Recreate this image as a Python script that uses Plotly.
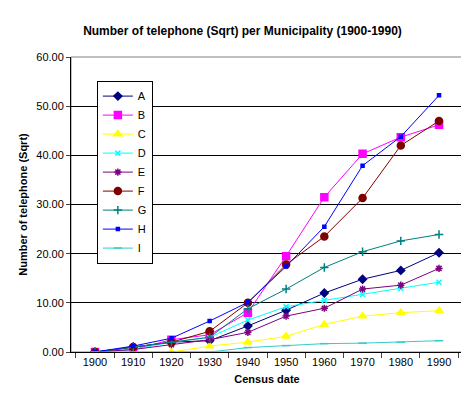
import plotly.graph_objects as go

years = ["1900","1910","1920","1930","1940","1950","1960","1970","1980","1990"]
A = [0,1.0,2.0,2.3,5.3,8.5,12.0,14.8,16.6,20.2]
B = [0,0.5,2.5,3.5,8.0,19.5,31.5,40.3,43.7,46.2]
C = [0,0,0,1.2,2.0,3.2,5.6,7.3,8.0,8.4]
D = [0,0.5,2.0,3.0,6.5,9.2,10.5,11.7,12.9,14.2]
E = [0,0.5,1.5,2.5,4.0,7.3,8.9,12.8,13.6,17.0]
F = [0,1.0,2.0,4.2,10.0,17.8,23.5,31.3,42.0,47.0]
G = [0,1.0,2.0,3.0,8.8,12.8,17.2,20.4,22.6,23.9]
H = [0,1.2,2.8,6.3,10.1,17.4,25.5,37.9,43.8,52.2]
I = [0,0,0,0,0.9,1.3,1.7,1.8,2.0,2.3]

series = [("A",A,"#000080","diamond",6),("B",B,"#FF00FF","square",7),
          ("C",C,"#FFFF00","triangle-up",7),("D",D,"#00FFFF","x-thin",5),
          ("E",E,"#800080","asterisk",6),("F",F,"#800000","circle",7),
          ("G",G,"#008080","cross-thin",6),("H",H,"#0000FF","square",3),
          ("I",I,"#33CCCC","line-ew",6)]

fig = go.Figure()
for name, vals, col, sym, sz in series:
    fig.add_trace(go.Scatter(x=years, y=vals, name=name, mode="lines+markers",
        line=dict(color=col, width=1),
        marker=dict(symbol=sym, size=sz, color=col, line=dict(color=col, width=1.5))))

fig.update_layout(
    width=469, height=405, paper_bgcolor="white", plot_bgcolor="white",
    margin=dict(l=63, r=14, t=49, b=61),
    font=dict(family="Liberation Sans, Arial", size=11, color="black"),
    title=dict(text="<b>Number of telephone (Sqrt) per Municipality (1900-1990)</b>",
               x=0.5, xanchor="center", y=0.955, font=dict(size=12)),
    legend=dict(x=0.066, y=0.92, xanchor="left", yanchor="top", bgcolor="white",
                bordercolor="black", borderwidth=1, font=dict(size=11),
                itemwidth=30, tracegroupgap=0),
    xaxis=dict(type="category", tickson="boundaries", ticks="outside", ticklen=5,
               showline=True, linecolor="black", mirror=False, showgrid=False,
               title=dict(text="<b>Census date</b>", font=dict(size=11), standoff=8)),
    yaxis=dict(range=[0,60], dtick=10, tickformat=".2f", ticks="outside", ticklen=4,
               showline=True, linecolor="black", gridcolor="black", gridwidth=1,
               zeroline=False,
               title=dict(text="<b>Number of telephone (Sqrt)</b>", font=dict(size=11), standoff=6)),
)
fig.add_shape(type="rect", xref="paper", yref="paper", x0=0, x1=1, y0=0, y1=1,
              line=dict(color="#808080", width=1), layer="below")
fig.write_html("out.html")
